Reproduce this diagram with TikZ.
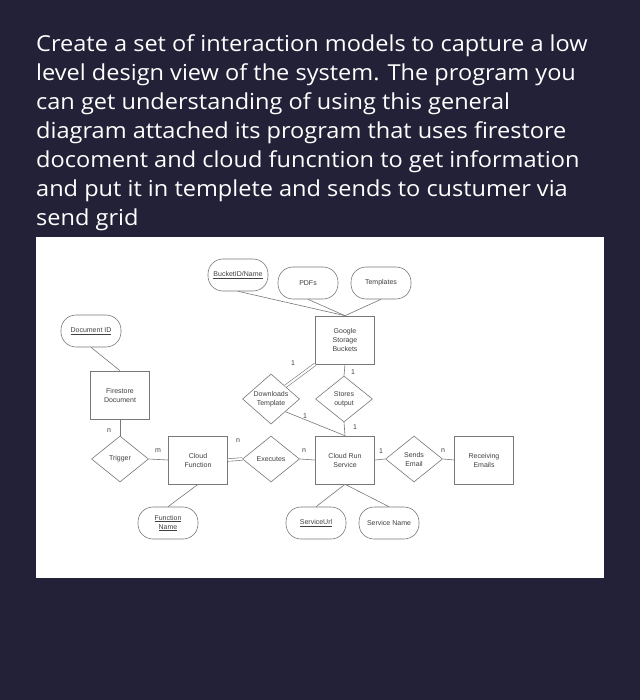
\documentclass[tikz,border=0pt]{standalone}
\usepackage{fontspec}
\setmainfont{Liberation Sans}
\newfontfamily\headfont{Open Sans}[FakeStretch=1.07]
\usetikzlibrary{shapes.geometric}
\definecolor{bgnavy}{RGB}{35,33,56}
\definecolor{edgegray}{RGB}{120,120,120}
\tikzset{
  entity/.style={draw=edgegray,line width=0.6pt,minimum width=59pt,minimum height=48pt,align=center,font=\fontsize{7}{9}\selectfont,text=black!75},
  relation/.style={draw=edgegray,line width=0.6pt,diamond,inner sep=0pt,minimum width=57pt,minimum height=46pt,align=center,font=\fontsize{7}{9}\selectfont,text=black!75},
  attrib/.style={draw=edgegray,line width=0.6pt,rounded corners=15pt,minimum width=60pt,minimum height=32pt,align=center,font=\fontsize{7}{9}\selectfont,text=black!75},
  link/.style={edgegray,line width=0.6pt},
  dlink/.style={edgegray,line width=0.6pt,double=white,double distance=2pt},
  card/.style={font=\fontsize{7}{9}\selectfont,text=black!75},
  head/.style={anchor=base west,inner sep=0pt,text=white,font=\headfont\fontsize{22}{29}\selectfont}
}
\begin{document}
\begin{tikzpicture}[x=1pt,y=1pt,yscale=-1]
    % background
    \fill[bgnavy] (0,0) rectangle (640,700);
    \useasboundingbox (0,0) rectangle (640,700);
    \fill[white] (36,237) rectangle (604,578);

    % Heading
    \node[head] (h1) at (36,52) {Create a set of interaction models to capture a low};
    \node[head] (h2) at (36,81) {level design view of the system. The program you};
    \node[head] (h3) at (36,110) {can get understanding of using this general};
    \node[head] (h4) at (36,139) {diagram attached its program that uses firestore};
    \node[head] (h5) at (36,168) {docoment and cloud funcntion to get information};
    \node[head] (h6) at (36,197) {and put it in templete and sends to custumer via};
    \node[head] (h7) at (36,226) {send grid};

    % Entities
    \node[entity] (storage) at (345,340) {Google\\Storage\\Buckets};
    \node[entity] (firestore) at (120,395) {Firestore\\Document};
    \node[entity] (cloudfn) at (198,460) {Cloud\\Function};
    \node[entity] (cloudrun) at (345,460) {Cloud Run\\Service};
    \node[entity] (receiving) at (484,460) {Receiving\\Emails};

    % Relations
    \node[relation] (trigger) at (120,459) {Trigger};
    \node[relation] (executes) at (271,459) {Executes};
    \node[relation] (sends) at (414,459) {Sends\\Email};
    \node[relation] (downloads) at (271,399) {Downloads\\Template};
    \node[relation] (stores) at (344,399) {Stores\\output};

    % Attributes
    \node[attrib] (bucketid) at (238,275) {\underline{BucketID/Name}};
    \node[attrib] (pdfs) at (308,283) {PDFs};
    \node[attrib] (templates) at (381,283) {Templates};
    \node[attrib] (docid) at (91,331) {\underline{Document ID}};
    \node[attrib] (fnname) at (168,523) {\underline{Function}\\\underline{Name}};
    \node[attrib] (serviceurl) at (316,523) {\underline{ServiceUrl}};
    \node[attrib] (servicename) at (389,523) {Service Name};

    % Connectors
    \draw[link] (bucketid.south) -- (storage.north);
    \draw[link] (pdfs.south) -- (storage.north);
    \draw[link] (templates.south) -- (storage.north);
    \draw[link] (docid.south) -- (firestore.north);
    \draw[link] (firestore.south) -- (trigger.north);
    \draw[link] (trigger.east) -- (cloudfn.west);
    \draw[dlink] (cloudfn.east) -- (executes.west);
    \draw[link] (executes.east) -- (cloudrun.west);
    \draw[link] (cloudrun.east) -- (sends.west);
    \draw[link] (sends.east) -- (receiving.west);
    \draw[dlink] (downloads.north east) -- (storage.south west);
    \draw[link] (downloads.south east) -- (cloudrun.north);
    \draw[link] (storage.south) -- (stores.north);
    \draw[link] (stores.south) -- (cloudrun.north);
    \draw[link] (fnname.north) -- (cloudfn.south);
    \draw[link] (serviceurl.north) -- (cloudrun.south);
    \draw[link] (servicename.north) -- (cloudrun.south);

    % Cardinalities
    \node[card] (c1) at (293,363) {1};
    \node[card] (c2) at (353,372) {1};
    \node[card] (c3) at (305,416) {1};
    \node[card] (c4) at (355,427) {1};
    \node[card] (c5) at (109,431) {n};
    \node[card] (c6) at (158,451) {m};
    \node[card] (c7) at (238,441) {n};
    \node[card] (c8) at (304,451) {n};
    \node[card] (c9) at (381,451) {1};
    \node[card] (c10) at (443,451) {n};
\end{tikzpicture}
\end{document}
